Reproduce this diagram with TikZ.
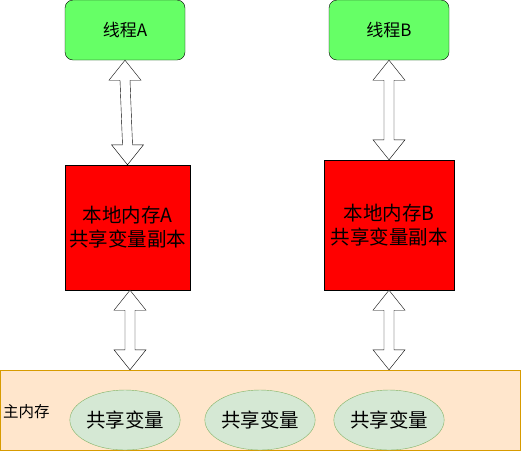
\documentclass[tikz,border=0pt]{standalone}
\usepackage{fontspec}
\setmainfont{Noto Sans CJK SC}
\usetikzlibrary{positioning,calc,shapes.geometric}
\definecolor{threadgreen}{HTML}{66FF66}
\definecolor{memfill}{HTML}{FFE6CC}
\definecolor{memline}{HTML}{D79B00}
\definecolor{varfill}{HTML}{D5E8D4}
\definecolor{varline}{HTML}{82B366}

\begin{document}
\begin{tikzpicture}[x=1pt,y=-1pt,
	thread/.style={draw, fill=threadgreen, rounded corners=8pt, minimum width=120pt, minimum height=60pt, font=\fontsize{17}{20}\selectfont},
	local/.style={draw, fill=red, minimum width=125pt, minimum height=125pt, align=center, font=\fontsize{19.5}{24}\selectfont},
	var/.style={ellipse, draw=varline, fill=varfill, minimum width=106pt, minimum height=60pt, inner sep=0pt, font=\fontsize{19.5}{24}\selectfont},
	dblarrow/.style={draw, fill=white, to path={(\tikztostart) -- ++(16pt,-20pt) -- ++(-11pt,0pt) -- ($(\tikztotarget)+(5pt,20pt)$) -- ++(11pt,0pt) -- (\tikztotarget) -- ++(-16pt,20pt) -- ++(11pt,0pt) -- ($(\tikztostart)+(-5pt,-20pt)$) -- ++(-11pt,0pt) -- cycle}}]
		\useasboundingbox (0,0) rectangle (521,451);
		\node (mem) [draw=memline, fill=memfill, minimum width=520pt, minimum height=80pt] at (260,410) {};
		\node (memlabel) [anchor=west, inner sep=0pt, font=\fontsize{15.5}{18}\selectfont] at (3,412) {主内存};
		\node (ta) [thread] at (125,30) {线程A};
		\node (tb) [thread] at (389,30) {线程B};
		\node (la) [local] at (127.5,227.5) {本地内存A\\共享变量副本};
		\node (lb) [local, minimum width=130pt, minimum height=130pt] at (389,225) {本地内存B\\共享变量副本};
		\node (va) [var] at (125,420) {共享变量};
		\node (vb) [var] at (260,420) {共享变量};
		\node (vc) [var, minimum width=100pt] at (389,420) {共享变量};
		\coordinate (ma) at ([xshift=2.5pt]la.south |- mem.north);
		\coordinate (mb) at (lb.south |- mem.north);
		\draw[dblarrow] (ta.south) to (la.north);
		\draw[dblarrow] (tb.south) to (lb.north);
		\draw[dblarrow] ([xshift=2.5pt]la.south) to (ma);
		\draw[dblarrow] (lb.south) to (mb);
\end{tikzpicture}
\end{document}
